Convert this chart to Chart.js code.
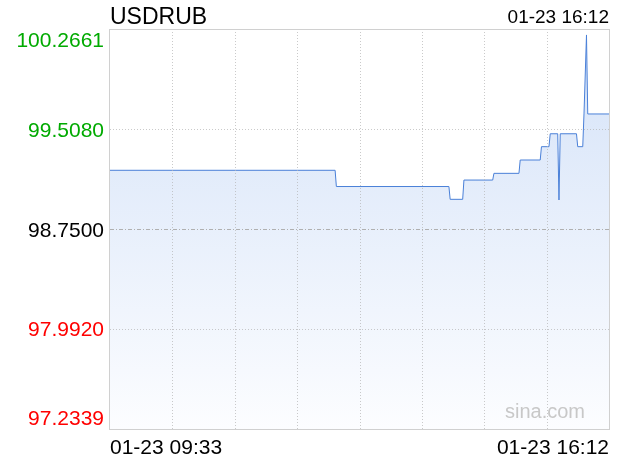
<!DOCTYPE html>
<html>
<head>
<meta charset="utf-8">
<script src="https://cdn.jsdelivr.net/npm/chart.js@4"></script>
<style>
  body { margin: 0; background: #fff; }
  #wrap { width: 620px; height: 460px; }
</style>
</head>
<body>
<div id="wrap"><canvas id="fxChart" width="620" height="460"></canvas></div>
<script>
// USDRUB intraday, 01-23
const symbol = 'USDRUB';
const dateLabel = '01-23';
const startTime = '09:33';
const endTime = '16:12';
const times = ['09:33', '12:33', '12:34', '14:04', '14:05', '14:15', '14:16', '14:39', '14:40', '15:00',
    '15:01', '15:17', '15:18', '15:24', '15:25', '15:31', '15:32', '15:33', '15:46', '15:47',
    '15:51', '15:52', '15:54', '15:55', '16:12'];
const prices = [99.195, 99.195, 99.072, 99.072, 98.975, 98.975, 99.121, 99.121, 99.172, 99.172,
    99.273, 99.273, 99.374, 99.374, 99.472, 99.472, 98.970, 99.472, 99.472, 99.374,
    99.374, 99.622, 100.221, 99.622, 99.622];
const yTicks = [100.2661, 99.5080, 98.7500, 97.9920, 97.2339];
const prevClose = 98.7500;

const FONT = '"Liberation Sans", Arial, Helvetica, sans-serif';

function toMinutes(t) {
    const parts = t.split(':');
    return parseInt(parts[0]) * 60 + parseInt(parts[1]);
}

const t0 = toMinutes(startTime);
const points = times.map((t, i) => ({ x: toMinutes(t) - t0, y: prices[i] }));

// grid, frame and all the text
const gridPlugin = {
    id: 'sinaGrid',
    afterDatasetsDraw(chart) {
        const ctx = chart.ctx;
        const area = chart.chartArea;
        const xs = chart.scales.x;
        const ys = chart.scales.y;
        ctx.save();
        ctx.lineWidth = 1;
        // vertical dotted lines
        ctx.strokeStyle = 'rgba(180,180,180,0.7)';
        ctx.setLineDash([1, 2]);
        for (let i = 1; i < 8; i++) {
            const v = xs.min + i * (xs.max - xs.min) / 8;
            const px = Math.round(xs.getPixelForValue(v)) + 0.5;
            ctx.beginPath();
            ctx.moveTo(px, area.top);
            ctx.lineTo(px, area.bottom);
            ctx.stroke();
        }
        // horizontal lines
        yTicks.slice(1, -1).forEach(v => {
            const py = Math.round(ys.getPixelForValue(v)) + 0.5;
            if (v === prevClose) {
                ctx.strokeStyle = '#b0b0b0';
                ctx.setLineDash([4, 2, 1, 2]);
            } else {
                ctx.strokeStyle = 'rgba(180,180,180,0.7)';
                ctx.setLineDash([1, 2]);
            }
            ctx.beginPath();
            ctx.moveTo(area.left, py);
            ctx.lineTo(area.right, py);
            ctx.stroke();
        });
        ctx.restore();
    },
    afterDraw(chart) {
        const ctx = chart.ctx;
        const area = chart.chartArea;
        const ys = chart.scales.y;
        ctx.save();
        // frame
        ctx.strokeStyle = '#d0d0d0';
        ctx.lineWidth = 1;
        ctx.strokeRect(Math.round(area.left) - 0.5, Math.round(area.top) + 0.5,
            Math.round(area.right - area.left) + 1, Math.round(area.bottom - area.top));

        ctx.textBaseline = 'alphabetic';
        // title and time
        ctx.fillStyle = '#000';
        ctx.font = '23px ' + FONT;
        ctx.textAlign = 'left';
        ctx.fillText(symbol, area.left, 24);
        ctx.font = '19px ' + FONT;
        ctx.textAlign = 'right';
        ctx.fillText(dateLabel + ' ' + endTime, area.right, 23);

        // y labels
        ctx.font = '21px ' + FONT;
        ctx.textAlign = 'right';
        yTicks.forEach((v, i) => {
            let py = ys.getPixelForValue(v) + 7.5;
            if (i === 0) py = area.top + 18;
            if (i === yTicks.length - 1) py = area.bottom - 4;
            ctx.fillStyle = v > prevClose ? '#0a0' : (v < prevClose ? '#f00' : '#000');
            ctx.fillText(v.toFixed(4), area.left - 6, py);
        });

        // x labels
        ctx.fillStyle = '#000';
        ctx.textAlign = 'left';
        ctx.fillText(dateLabel + ' ' + startTime, area.left, 454);
        ctx.textAlign = 'right';
        ctx.fillText(dateLabel + ' ' + endTime, area.right, 454);

        // watermark
        ctx.font = '20px ' + FONT;
        ctx.fillStyle = '#c8c8c8';
        ctx.fillText('sina.com', 585, 418);
        ctx.restore();
    }
};

const chartCtx = document.getElementById('fxChart').getContext('2d');
const fxChart = new Chart(chartCtx, {
    type: 'line',
    data: {
        datasets: [{
            data: points,
            borderColor: '#4a80d8',
            borderWidth: 1,
            pointRadius: 0,
            tension: 0,
            fill: 'start',
            backgroundColor: function (c) {
                const area = c.chart.chartArea;
                if (!area) return 'rgba(220,232,250,0.8)';
                const g = c.chart.ctx.createLinearGradient(0, area.top, 0, area.bottom);
                g.addColorStop(0, '#d4e2f8');
                g.addColorStop(1, '#fcfdff');
                return g;
            }
        }]
    },
    options: {
        responsive: false,
        animation: false,
        devicePixelRatio: 1,
        layout: {
            padding: { left: 110, top: 29, right: 11, bottom: 31 }
        },
        plugins: {
            legend: { display: false },
            tooltip: { enabled: false }
        },
        scales: {
            x: {
                type: 'linear',
                min: 0,
                max: toMinutes(endTime) - t0,
                display: false
            },
            y: {
                min: yTicks[yTicks.length - 1],
                max: yTicks[0],
                display: false
            }
        }
    },
    plugins: [gridPlugin]
});
</script>
</body>
</html>
